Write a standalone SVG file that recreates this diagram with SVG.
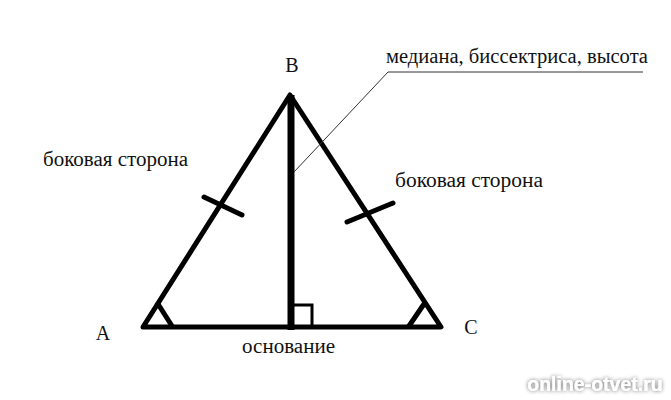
<svg xmlns="http://www.w3.org/2000/svg" width="671" height="400" viewBox="0 0 671 400">
<defs>
<style>
.t{font-family:"Liberation Serif","Times New Roman",serif;font-size:20px;fill:#111}
.s{stroke:#000;stroke-width:5;fill:none;stroke-linecap:round;stroke-linejoin:round}
.m{stroke:#000;stroke-width:3;fill:none}
</style>
<filter id="sh" x="-20%" y="-50%" width="140%" height="200%">
<feGaussianBlur in="SourceAlpha" stdDeviation="2"/>
<feComponentTransfer><feFuncA type="linear" slope="0.6"/></feComponentTransfer>
<feMerge><feMergeNode/><feMergeNode in="SourceGraphic"/></feMerge>
</filter>
</defs>
<rect width="671" height="400" fill="#fff"/>
<g id="triangle">
<path class="s" d="M143,327 L290,95 L441,327 Z"/>
</g>
<g id="median">
<line x1="291" y1="95" x2="291" y2="330" stroke="#000" stroke-width="7"/>
<path class="m" d="M294,305 H312 V328"/>
</g>
<g id="marks">
<line class="s" x1="204" y1="197" x2="242" y2="215" stroke-width="4"/>
<line class="s" x1="347" y1="222" x2="393" y2="203" stroke-width="4"/>
<line class="s" x1="158" y1="304" x2="172" y2="326" stroke-width="4"/>
<line class="s" x1="424" y1="304" x2="409" y2="326" stroke-width="4"/>
</g>
<g id="connectors">
<polyline points="643,72 388,72 294,172" fill="none" stroke="#333" stroke-width="1"/>
</g>
<g id="labels">
<text class="t" x="292" y="72" text-anchor="middle">B</text>
<text class="t" x="103" y="340" text-anchor="middle">A</text>
<text class="t" x="471" y="334" text-anchor="middle">C</text>
<text class="t" x="386" y="63" textLength="262" lengthAdjust="spacingAndGlyphs">медиана, биссектриса, высота</text>
<text class="t" x="43" y="166" textLength="145" lengthAdjust="spacingAndGlyphs">боковая сторона</text>
<text class="t" x="395" y="187" textLength="148" lengthAdjust="spacingAndGlyphs">боковая сторона</text>
<text class="t" x="242" y="353" textLength="93" lengthAdjust="spacingAndGlyphs">основание</text>
</g>
<text x="595" y="391" text-anchor="middle" font-family="Liberation Sans,Arial,sans-serif" font-weight="bold" font-size="19.5" fill="#fff" filter="url(#sh)">online-otvet.ru</text>
</svg>
